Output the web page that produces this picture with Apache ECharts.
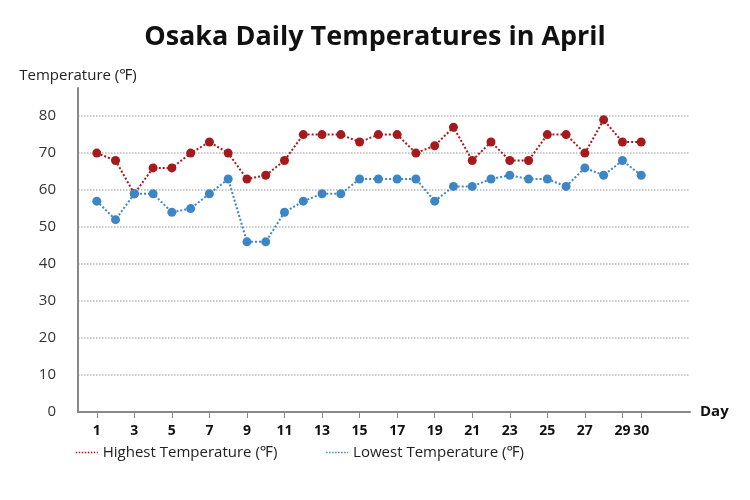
<!DOCTYPE html>
<html>
<head>
<meta charset="utf-8">
<script src="https://cdn.jsdelivr.net/npm/echarts@6/dist/echarts.min.js"></script>
<style>
  html, body { margin: 0; padding: 0; background: #fff; }
  #chart { width: 750px; height: 500px; }
</style>
</head>
<body>
<div id="chart"></div>
<script>
// days of April and readings
const days = [1, 2, 3, 4, 5, 6, 7, 8, 9, 10, 11, 12, 13, 14, 15, 16, 17, 18, 19, 20, 21, 22, 23, 24, 25, 26, 27, 28, 29, 30];
const highTemps = [70, 68, 59, 66, 66, 70, 73, 70, 63, 64, 68, 75, 75, 75, 73, 75, 75, 70, 72, 77, 68, 73, 68, 68, 75, 75, 70, 79, 73, 73];
const lowTemps = [57, 52, 59, 59, 54, 55, 59, 63, 46, 46, 54, 57, 59, 59, 63, 63, 63, 63, 57, 61, 61, 63, 64, 63, 63, 61, 66, 64, 68, 64];
const dayLabels = [1, 3, 5, 7, 9, 11, 13, 15, 17, 19, 21, 23, 25, 27, 29, 30];
const tempLabels = [0, 10, 20, 30, 40, 50, 60, 70, 80];

const chart = echarts.init(document.getElementById("chart"));
const font = "'Open Sans', 'Noto Sans', sans-serif";

const option = {
  animation: false,
  textStyle: { fontFamily: font },
  title: {
    text: "Osaka Daily Temperatures in April",
    left: "center",
    top: 19,
    textStyle: { fontSize: 27, fontWeight: "bold", color: "#111", fontFamily: font },
  },
  legend: {
    left: 70,
    top: 440,
    itemWidth: 22,
    itemHeight: 10,
    itemGap: 48,
    itemStyle: { opacity: 0 },
    lineStyle: { type: "dotted", width: 1.5 },
    textStyle: { fontSize: 15, color: "#222", fontFamily: font },
  },
  grid: {
    left: 78,
    right: 60,
    top: 88,
    bottom: 88,
  },
  xAxis: {
    type: "value",
    min: 0,
    max: 32.6,
    name: "Day",
    nameLocation: "end",
    nameGap: 10,
    nameTextStyle: { fontSize: 15, fontWeight: "bold", color: "#111", verticalAlign: "middle" },
    axisLine: { lineStyle: { color: "#888", width: 2 } },
    axisTick: {
      show: true,
      length: 6,
      customValues: dayLabels,
      lineStyle: { color: "#888", width: 1 },
    },
    axisLabel: {
      customValues: dayLabels,
      fontSize: 14,
      fontWeight: "bold",
      color: "#111",
      margin: 12,
    },
    splitLine: { show: false },
  },
  yAxis: {
    type: "value",
    min: 0,
    max: 87.6,
    interval: 10,
    name: "Temperature (℉)",
    nameLocation: "end",
    nameGap: 5,
    nameTextStyle: { fontSize: 15, color: "#222" },
    axisLine: { show: true, lineStyle: { color: "#888", width: 2 } },
    axisTick: { show: false },
    axisLabel: {
      customValues: tempLabels,
      fontSize: 15,
      color: "#333",
      margin: 22,
    },
    splitLine: {
      show: true,
      showMaxLine: false,
      showMinLine: false,
      lineStyle: { type: "dotted", color: "#bbb", width: 1.5 },
    },
  },
  series: [
    {
      name: "Highest Temperature (℉)",
      type: "line",
      data: days.map((d, i) => [d, highTemps[i]]),
      symbol: "circle",
      symbolSize: 9,
      itemStyle: { color: "#a51b1d" },
      lineStyle: { type: "dotted", width: 2, color: "#a51b1d" },
    },
    {
      name: "Lowest Temperature (℉)",
      type: "line",
      data: days.map((d, i) => [d, lowTemps[i]]),
      symbol: "circle",
      symbolSize: 9,
      itemStyle: { color: "#3d86c6" },
      lineStyle: { type: "dotted", width: 2, color: "#3d86c6" },
    },
  ],
};

chart.setOption(option);
</script>
</body>
</html>
